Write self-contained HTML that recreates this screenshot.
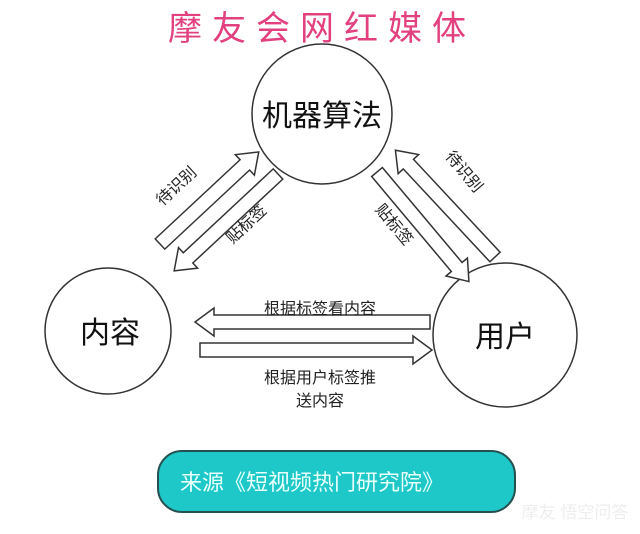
<!DOCTYPE html>
<html><head><meta charset="utf-8"><style>
body{margin:0;background:#fff;}
svg text{font-family:"Liberation Sans","Noto Sans CJK SC",sans-serif;}
</style></head><body>
<svg width="640" height="529" viewBox="0 0 640 529" xmlns="http://www.w3.org/2000/svg">
<text x="322" y="40" font-size="34" fill="#e2407f" text-anchor="middle" letter-spacing="10">摩友会网红媒体</text>
<g fill="#fff" stroke="#333" stroke-width="1.5">
<circle cx="322" cy="114" r="70"/>
<circle cx="108" cy="331" r="63"/>
<circle cx="505" cy="335" r="72"/>
</g>
<g fill="#fff" stroke="#333" stroke-width="1.5">
<polygon transform="translate(160,244) rotate(-43)" points="0,-7 116,-7 116,-14 135,0 116,14 116,7 0,7"/>
<polygon transform="translate(278,174) rotate(137)" points="0,-7 123,-7 123,-14 142,0 123,14 123,7 0,7"/>
<polygon transform="translate(377,172) rotate(50)" points="0,-7 124,-7 124,-14 143,0 124,14 124,7 0,7"/>
<polygon transform="translate(495,257) rotate(-133)" points="0,-7 127,-7 127,-14 146,0 127,14 127,7 0,7"/>
<polygon transform="translate(430,322) rotate(180)" points="0,-7 216,-7 216,-14 235,0 216,14 216,7 0,7"/>
<polygon transform="translate(200,350)" points="0,-7 213,-7 213,-14 232,0 213,14 213,7 0,7"/>
</g>
<g font-size="16" fill="#222">
<text transform="translate(180,190) rotate(-43)" text-anchor="middle">待识别</text>
<text transform="translate(250,228) rotate(-43)" text-anchor="middle">贴标签</text>
<text transform="translate(460,175) rotate(50)" text-anchor="middle">待识别</text>
<text transform="translate(390,228) rotate(50)" text-anchor="middle">贴标签</text>
<text x="320" y="314" text-anchor="middle">根据标签看内容</text>
<text x="320" y="383" text-anchor="middle">根据用户标签推</text>
<text x="320" y="406" text-anchor="middle">送内容</text>
</g>
<g font-size="30" fill="#111" text-anchor="middle">
<text x="322" y="126">机器算法</text>
<text x="110" y="343">内容</text>
<text x="505" y="347">用户</text>
</g>
<rect x="158" y="451" width="357" height="61" rx="24" fill="#1fc8c8" stroke="#245050" stroke-width="2"/>
<text x="312" y="490" font-size="22" fill="#e8ffff" text-anchor="middle">来源《短视频热门研究院》</text>
<text x="575" y="518" font-size="17" fill="#eee" text-anchor="middle">摩友 悟空问答</text>
</svg>
</body></html>
